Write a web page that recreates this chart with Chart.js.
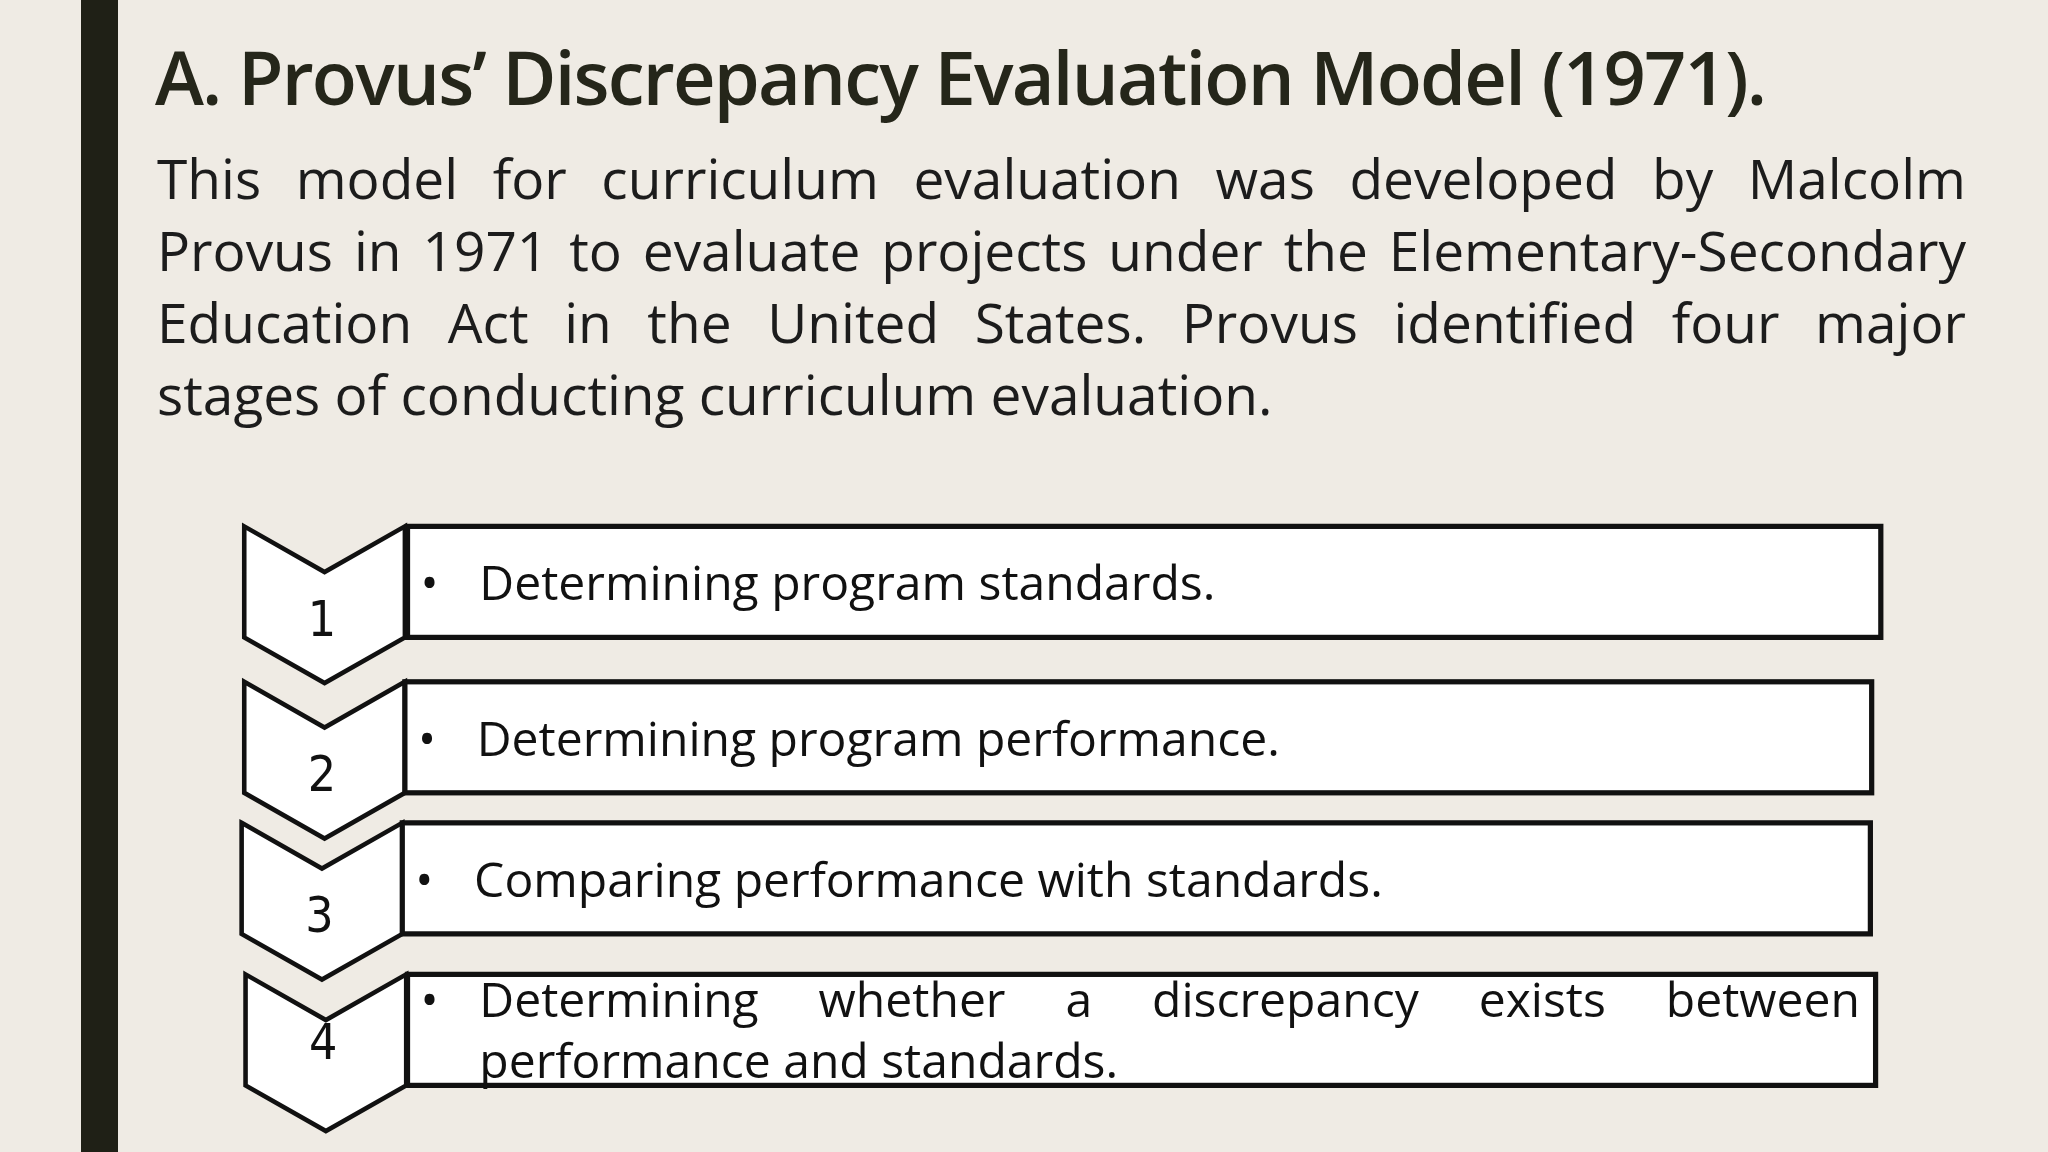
<!DOCTYPE html>
<html>
<head>
<meta charset="utf-8">
<script src="https://cdn.jsdelivr.net/npm/chart.js@4.4.1/dist/chart.umd.min.js"></script>
<style>
  html, body { margin: 0; padding: 0; background: #efebe4; }
  #wrap { position: relative; width: 2048px; height: 1152px; overflow: hidden; background: #efebe4; }
  #bar { position: absolute; left: 81px; top: 0; width: 37px; height: 1152px; background: #1f2016; }
  #title { position: absolute; left: 155px; top: 26px; font-family: "Open Sans", "Noto Sans", sans-serif; font-weight: 600; font-size: 74px; color: #25261a; letter-spacing: -1.8px; white-space: nowrap; }
  #para { position: absolute; left: 157px; top: 142px; width: 1809px; font-family: "Open Sans", "Noto Sans", sans-serif; font-size: 55px; line-height: 72px; color: #1c1c1c; }
  #para div { text-align: justify; text-align-last: justify; white-space: nowrap; }
  #para div.last { text-align-last: left; }
  #chart { position: absolute; left: 0; top: 0; width: 2048px; height: 1152px; }
</style>
</head>
<body>
<div id="wrap">
  <div id="bar"></div>
  <div id="title">A. Provus’ Discrepancy Evaluation Model (1971).</div>
  <div id="para">
    <div>This model for curriculum evaluation was developed by Malcolm</div>
    <div>Provus in 1971 to evaluate projects under the Elementary-Secondary</div>
    <div>Education Act in the United States. Provus identified four major</div>
    <div class="last">stages of conducting curriculum evaluation.</div>
  </div>
  <div id="chart"><canvas id="c"></canvas></div>
</div>
<script>
// Шаги модели
const steps = ['1', '2', '3', '4'];
const stepTexts = [
    'Determining program standards.',
    'Determining program performance.',
    'Comparing performance with standards.',
    'Determining whether a discrepancy exists between performance and standards.'
];

// Геометрия (в единицах исходного слайда 1568x882)
const boxTops = [403, 522, 630, 746];
const boxLefts = [312, 310, 308, 312];
const boxRights = [1440, 1433, 1432, 1436];
const chevLefts = [187, 187, 185, 188];
const BOX_H = 85, CHEV_W = 123, NOTCH = 35;

const stepsPlugin = {
    id: 'steps',
    afterDraw(chart) {
        const ctx = chart.ctx;
        const xs = chart.scales.x, ys = chart.scales.y;
        const px = v => xs.getPixelForValue(v);
        const py = v => ys.getPixelForValue(v);
        const k = px(1) - px(0);
        ctx.save();
        ctx.lineJoin = 'miter';
        ctx.strokeStyle = '#111';
        steps.forEach((s, i) => {
            const top = boxTops[i], l = chevLefts[i], r = l + CHEV_W, mid = l + CHEV_W / 2;
            // шеврон
            ctx.beginPath();
            ctx.moveTo(px(l), py(top));
            ctx.lineTo(px(mid), py(top + NOTCH));
            ctx.lineTo(px(r), py(top));
            ctx.lineTo(px(r), py(top + BOX_H));
            ctx.lineTo(px(mid), py(top + BOX_H + NOTCH));
            ctx.lineTo(px(l), py(top + BOX_H));
            ctx.closePath();
            ctx.fillStyle = '#ffffff';
            ctx.fill();
            ctx.lineWidth = 3.5 * k;
            ctx.stroke();
            ctx.fillStyle = '#111';
            ctx.font = `${38 * k}px "Liberation Sans Narrow", "DejaVu Sans Condensed", sans-serif`;
            ctx.textAlign = 'center';
            ctx.textBaseline = 'middle';
            const numY = i === 3 ? top + 55 : top + 74;
            ctx.fillText(s, px(mid - 2), py(numY));
            // прямоугольник
            ctx.fillStyle = '#ffffff';
            ctx.fillRect(px(boxLefts[i]), py(top), px(boxRights[i]) - px(boxLefts[i]), py(top + BOX_H) - py(top));
            ctx.lineWidth = 4 * k;
            ctx.strokeRect(px(boxLefts[i]), py(top), px(boxRights[i]) - px(boxLefts[i]), py(top + BOX_H) - py(top));
            // текст
            ctx.fillStyle = '#111';
            ctx.textAlign = 'left';
            ctx.font = `${36.8 * k}px "Open Sans", "Noto Sans", sans-serif`;
            const bx = boxLefts[i] + 10, tx = boxLefts[i] + 55;
            if (i < 3) {
                ctx.fillText('•', px(bx), py(top + 46));
                ctx.fillText(stepTexts[i], px(tx), py(top + 46));
            } else {
                ctx.fillText('•', px(bx), py(top + 22));
                const words = stepTexts[i].split(' ');
                const line1 = words.slice(0, 6), line2 = words.slice(6).join(' ');
                const avail = px(boxRights[i] - 12) - px(tx);
                const wsum = line1.reduce((a, w) => a + ctx.measureText(w).width, 0);
                const gap = (avail - wsum) / (line1.length - 1);
                let x = px(tx);
                line1.forEach(w => { ctx.fillText(w, x, py(top + 22)); x += ctx.measureText(w).width + gap; });
                ctx.fillText(line2, px(tx), py(top + 69));
            }
        });
        ctx.restore();
    }
};

new Chart(document.getElementById('c').getContext('2d'), {
    type: 'scatter',
    data: { datasets: [{ data: steps.map((s, i) => ({ x: chevLefts[i], y: boxTops[i] })), pointRadius: 0 }] },
    options: {
        responsive: true,
        maintainAspectRatio: false,
        animation: false,
        layout: { padding: 0 },
        plugins: { legend: { display: false }, tooltip: { enabled: false } },
        scales: {
            x: { type: 'linear', min: 0, max: 1568, display: false },
            y: { type: 'linear', min: 0, max: 882, reverse: true, display: false }
        }
    },
    plugins: [stepsPlugin]
});
</script>
</body>
</html>
